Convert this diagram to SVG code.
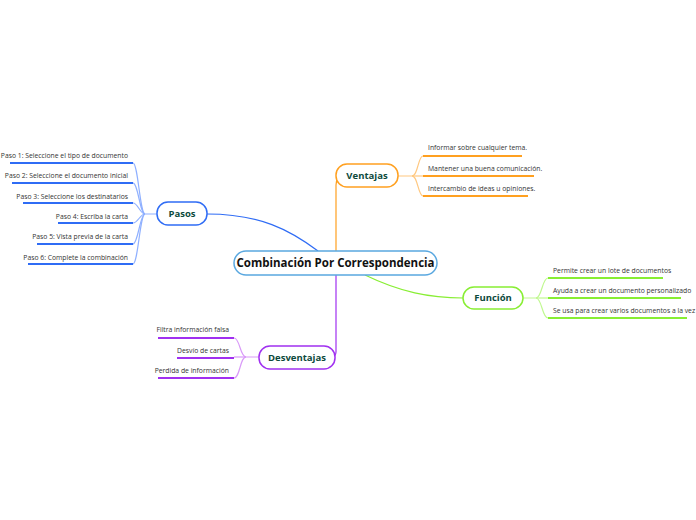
<svg xmlns="http://www.w3.org/2000/svg" width="696" height="520" viewBox="0 0 696 520">
<style>
text{font-family:"Open Sans","Noto Sans",sans-serif}
.leaf{font-size:6.8px;fill:#333}
.r{text-anchor:end}
.node{font-size:9.5px;font-weight:bold;fill:#0d4a3c;text-anchor:middle}
.c{fill:none;stroke-width:1.2}
.u{stroke-width:2;fill:none}
</style>
<rect width="696" height="520" fill="#fff"/>
<g id="connectors">
<path class="c" d="M207,214 C260,214 290,230 318,251" stroke="#2f6cf5" stroke-width="1.6"/>
<path class="c" d="M336,251 L336,185 Q336,176 345,176" stroke="#ffa020" stroke-width="1.6"/>
<path class="c" d="M365,275 C400,292 430,298 463,298" stroke="#88ee33" stroke-width="1.6"/>
<path class="c" d="M336,275 L336,352 Q336,357 330,357" stroke="#a030f0" stroke-width="1.6"/>
<g stroke="#8fb0ff" class="c">
<path d="M157,214 H145 C140,214 138,163 133,163"/><path d="M145,214 C140,214 138,183 133,183"/><path d="M145,214 C140,214 138,203 133,203"/><path d="M145,214 C140,214 138,223 133,223"/><path d="M145,214 C140,214 138,244 133,244"/><path d="M145,214 C140,214 138,264 133,264"/>
</g>
<g stroke="#2f6cf5" class="u">
<path d="M10,163H133M12,183H133M23,203H133M58,223H133M37,244H133M28,264H133"/>
</g>
<g stroke="#ffc880" class="c">
<path d="M398,176 H412 C418,176 418,156 423,156"/><path d="M412,176 H423"/><path d="M412,176 C418,176 418,196 423,196"/>
</g>
<g stroke="#ffa020" class="u"><path d="M423,156H522M423,176H534M423,196H528"/></g>
<g stroke="#c0f890" class="c">
<path d="M523,298 H536 C542,298 542,278 548,278"/><path d="M536,298 H548"/><path d="M536,298 C542,298 542,318 548,318"/>
</g>
<g stroke="#88ee33" class="u"><path d="M548,278H663M548,298H681M548,318H687"/></g>
<g stroke="#d99af8" class="c">
<path d="M259,357 H246 C240,357 240,338 234,338"/><path d="M246,357 H234"/><path d="M246,357 C240,357 240,378 234,378"/>
</g>
<g stroke="#a030f0" class="u"><path d="M158,338H234M177,358H234M158,378H234"/></g>
</g>
<g id="central"><rect x="234" y="251" width="203" height="24" rx="12" fill="#fff" stroke="#5aa8e0" stroke-width="1.5"/><text x="335.5" y="267" font-size="11.5" font-weight="bold" text-anchor="middle" fill="#111">Combinación Por Correspondencia</text></g>
<g id="pasos"><rect x="157" y="202" width="50" height="23" rx="11" fill="#fff" stroke="#2f6cf5" stroke-width="1.5"/><text class="node" x="182" y="217">Pasos</text></g>
<g id="ventajas"><rect x="336" y="164" width="62" height="23" rx="11" fill="#fff" stroke="#ffa020" stroke-width="1.5"/><text class="node" x="367" y="179">Ventajas</text></g>
<g id="funcion"><rect x="463" y="287" width="60" height="22" rx="11" fill="#fff" stroke="#88ee33" stroke-width="1.5"/><text class="node" x="493" y="301">Función</text></g>
<g id="desventajas"><rect x="259" y="346" width="76" height="23" rx="11" fill="#fff" stroke="#a030f0" stroke-width="1.5"/><text class="node" x="297" y="361">Desventajas</text></g>
<g id="leaves-pasos">
<text class="leaf r" x="128" y="158">Paso 1: Seleccione el tipo de documento</text>
<text class="leaf r" x="128" y="178">Paso 2:  Seleccione el documento inicial</text>
<text class="leaf r" x="128" y="199">Paso 3: Seleccione los destinatarios</text>
<text class="leaf r" x="128" y="219">Paso 4: Escriba la carta</text>
<text class="leaf r" x="128" y="239">Paso 5: Vista previa de la carta</text>
<text class="leaf r" x="128" y="260">Paso 6: Complete la combinación</text>
</g>
<g id="leaves-ventajas">
<text class="leaf" x="428" y="150">Informar sobre cualquier tema.</text>
<text class="leaf" x="428" y="171">Mantener una buena comunicación.</text>
<text class="leaf" x="428" y="191">Intercambio de ideas u opiniones.</text>
</g>
<g id="leaves-funcion">
<text class="leaf" x="553" y="273">Permite crear un lote de documentos</text>
<text class="leaf" x="553" y="293">Ayuda  a crear un documento personalizado</text>
<text class="leaf" x="553" y="313">Se usa para crear varios documentos a la vez</text>
</g>
<g id="leaves-desventajas">
<text class="leaf r" x="229" y="332">Filtra  información falsa</text>
<text class="leaf r" x="229" y="353">Desvío de cartas</text>
<text class="leaf r" x="229" y="373">Perdida de información</text>
</g>
</svg>
